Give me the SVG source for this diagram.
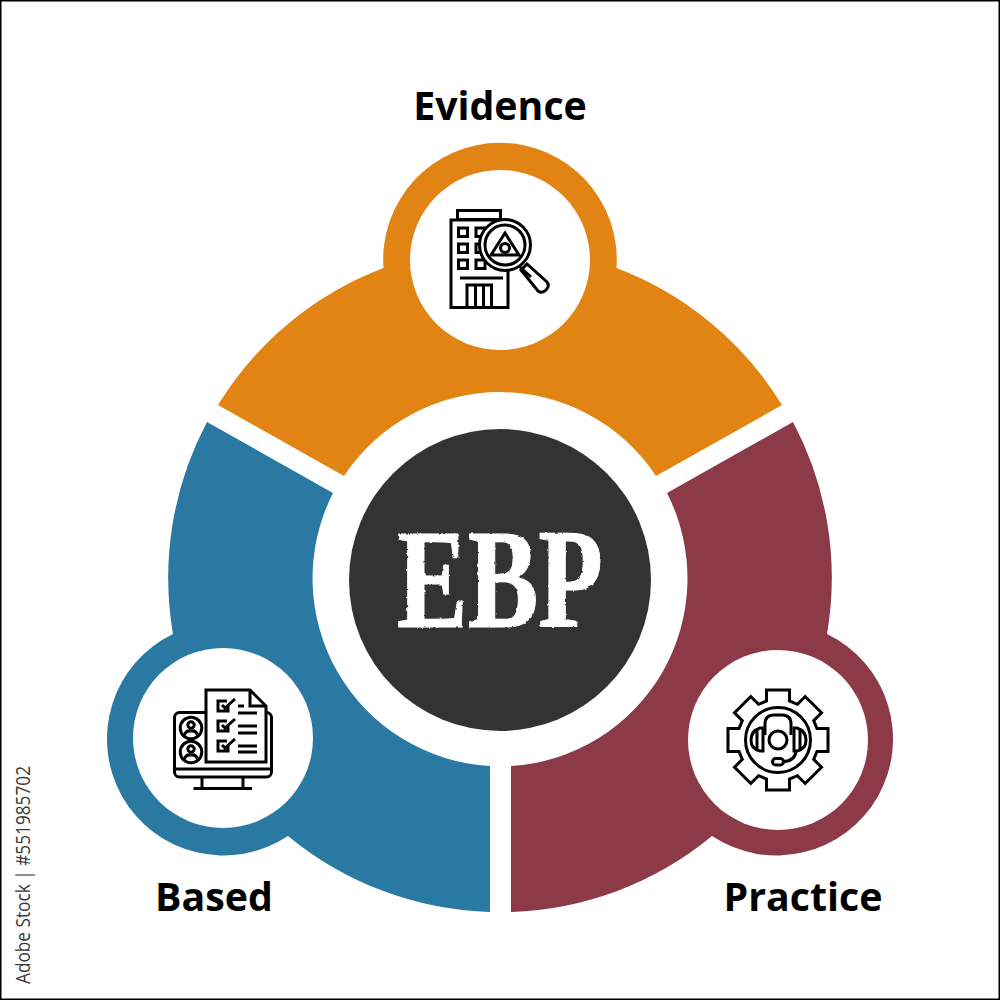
<svg xmlns="http://www.w3.org/2000/svg" width="1000" height="1000" viewBox="0 0 1000 1000">
<style>
.label{font-family:"Open Sans","Liberation Sans",sans-serif;font-weight:700;font-size:39.300px;fill:#000;text-anchor:middle}
.ln{fill:none;stroke:#000;stroke-width:3;stroke-linejoin:miter}
.lw{fill:#fff;stroke:#000;stroke-width:3}
.disc{fill:#fff}
</style>
<defs>
<filter id="rough" x="-5%" y="-5%" width="110%" height="110%">
<feTurbulence type="fractalNoise" baseFrequency="0.25" numOctaves="2" seed="4"/>
<feDisplacementMap in="SourceGraphic" scale="2.500" xChannelSelector="R" yChannelSelector="G"/>
</filter>
</defs>
<rect x="0.75" y="0.75" width="998.5" height="998.5" fill="#fff" stroke="#000" stroke-width="1.5"/>

<g id="node-evidence">
<path fill="#E28413" d="M218,405 A332,332 0 0 1 383.500,268 A116.800,116.800 0 1 1 616.500,268 A332,332 0 0 1 782,405 L656,476 A187,187 0 0 0 344,476 Z"/>
<circle class="disc" cx="500" cy="260" r="90"/>
<g>
<rect class="ln" x="457.500" y="210.500" width="43" height="9"/>
<rect class="lw" x="451" y="220" width="57" height="87.500"/>
<rect class="ln" x="458.500" y="228" width="9" height="8.500"/>
<rect class="ln" x="458.500" y="244" width="9" height="8.500"/>
<rect class="ln" x="458.500" y="260" width="9" height="8.500"/>
<rect class="ln" x="476" y="228" width="9" height="8.500"/>
<rect class="ln" x="476" y="244" width="9" height="8.500"/>
<rect class="ln" x="476" y="260" width="9" height="8.500"/>
<path class="ln" d="M460,278 H503 M467,307 V285 H491.500 V307 M475.500,285 V307 M483.500,285 V307"/>
<path class="lw" d="M521,270 L527,264 L547,282 Q550,286 546,290 Q542,294 538,291 Z"/>
<path class="ln" d="M519,266 L531,277"/>
<circle class="lw" cx="505" cy="245" r="25.500"/>
<circle class="ln" cx="505" cy="245" r="20"/>
<path class="ln" d="M505,233 L519,255 H491 Z"/>
<circle class="ln" cx="505" cy="248" r="4.500"/>
</g>
</g>

<g id="node-based">
<path fill="#2A79A3" d="M207,422 A332,332 0 0 0 173,634 A116.500,116.500 0 1 0 288,836 A332,332 0 0 0 490,912 L490,766 A188,188 0 0 1 333,493 Z"/>
<circle class="disc" cx="223" cy="738" r="90"/>
<g>
<rect class="ln" x="174.500" y="712.500" width="97" height="64.500" rx="5"/>
<path class="ln" d="M174.500,769 H271.500 M202,777 V788 M243,777 V788 M193.500,788.500 H252"/>
<path class="lw" d="M206,690 H250 L266,706 V762 H206 Z"/>
<path class="ln" d="M250,690 V706 H266"/>
<circle class="ln" cx="191" cy="728" r="10.800"/>
<circle class="ln" cx="191" cy="752" r="10.800"/>
<circle class="ln" cx="191" cy="725" r="3.200"/>
<circle class="ln" cx="191" cy="749" r="3.200"/>
<path class="ln" d="M184,737 Q185,730 191,731 Q197,730 198,737 M184,761 Q185,754 191,755 Q197,754 198,761"/>
<path class="ln" d="M227,701 H218 V711 H228 V706 M222,705 L225,708 L235,699"/>
<path class="ln" d="M227,721 H218 V731 H228 V726 M222,725 L225,728 L235,719"/>
<path class="ln" d="M227,741 H218 V751 H228 V746 M222,745 L225,748 L235,739"/>
<path class="ln" d="M238,706 H244 M238,713 H257 M238,726 H257 M238,733 H257 M238,746 H257 M238,752 H257"/>
</g>
</g>

<g id="node-practice">
<path fill="#8C3A47" d="M793,422 A332,332 0 0 1 827,634 A116.500,116.500 0 1 1 712,836 A332,332 0 0 1 511,912 L511,766 A188,188 0 0 0 667,493 Z"/>
<circle class="disc" cx="778" cy="740" r="90"/>
<g transform="translate(778 740)">
<path class="ln" d="M-11.500,-39 V-50 H11.500 V-39 L19.400,-35.700 L27.200,-43.500 L43.500,-27.200 L35.700,-19.400 L39,-11.500 H50 V11.500 H39 L35.700,19.400 L43.500,27.200 L27.200,43.500 L19.400,35.700 L11.500,39 V50 H-11.500 V39 L-19.400,35.700 L-27.200,43.500 L-43.500,27.200 L-35.700,19.400 L-39,11.500 H-50 V-11.500 H-39 L-35.700,-19.400 L-43.500,-27.200 L-27.200,-43.500 L-19.400,-35.700 Z"/>
<circle class="ln" cx="0" cy="0" r="32.500"/>
<circle class="ln" cx="0" cy="0" r="9"/>
<path class="ln" d="M-13,-5 V-16 Q-13,-25 -4,-25 H4 Q13,-25 13,-16 V-5"/>
<path class="ln" d="M-15,-12 H-18 Q-27,-9 -27,0 Q-27,9 -18,11 H-15 Z M-21,-10 V10"/>
<path class="ln" d="M16,-12 H19 Q28,-9 28,0 Q28,9 19,11 H16 Z M22,-10 V10"/>
<rect class="ln" x="-5.500" y="18.500" width="11" height="6.500" rx="3.200"/>
<path class="ln" d="M5.500,21.500 Q17,21 18,11"/>
</g>
</g>

<g id="node-ebp">
<circle cx="500" cy="580" r="151" fill="#333"/>
<text x="500" y="627" text-anchor="middle" font-family="Liberation Serif,serif" font-weight="700" font-size="141" textLength="206" lengthAdjust="spacingAndGlyphs" fill="#fff" stroke="#fff" stroke-width="1.200" filter="url(#rough)">EBP</text>
</g>

<g id="labels">
<text class="label" x="500" y="120">Evidence</text>
<text class="label" x="214" y="911">Based</text>
<text class="label" x="803" y="911">Practice</text>
<text transform="translate(29.500 984) rotate(-90)" x="0" y="0" font-family="Open Sans,Liberation Sans,sans-serif" font-size="19.500" fill="#3a3a3a" textLength="218" lengthAdjust="spacingAndGlyphs">Adobe Stock | #551985702</text>
</g>
<g id="connectors"/>
</svg>
